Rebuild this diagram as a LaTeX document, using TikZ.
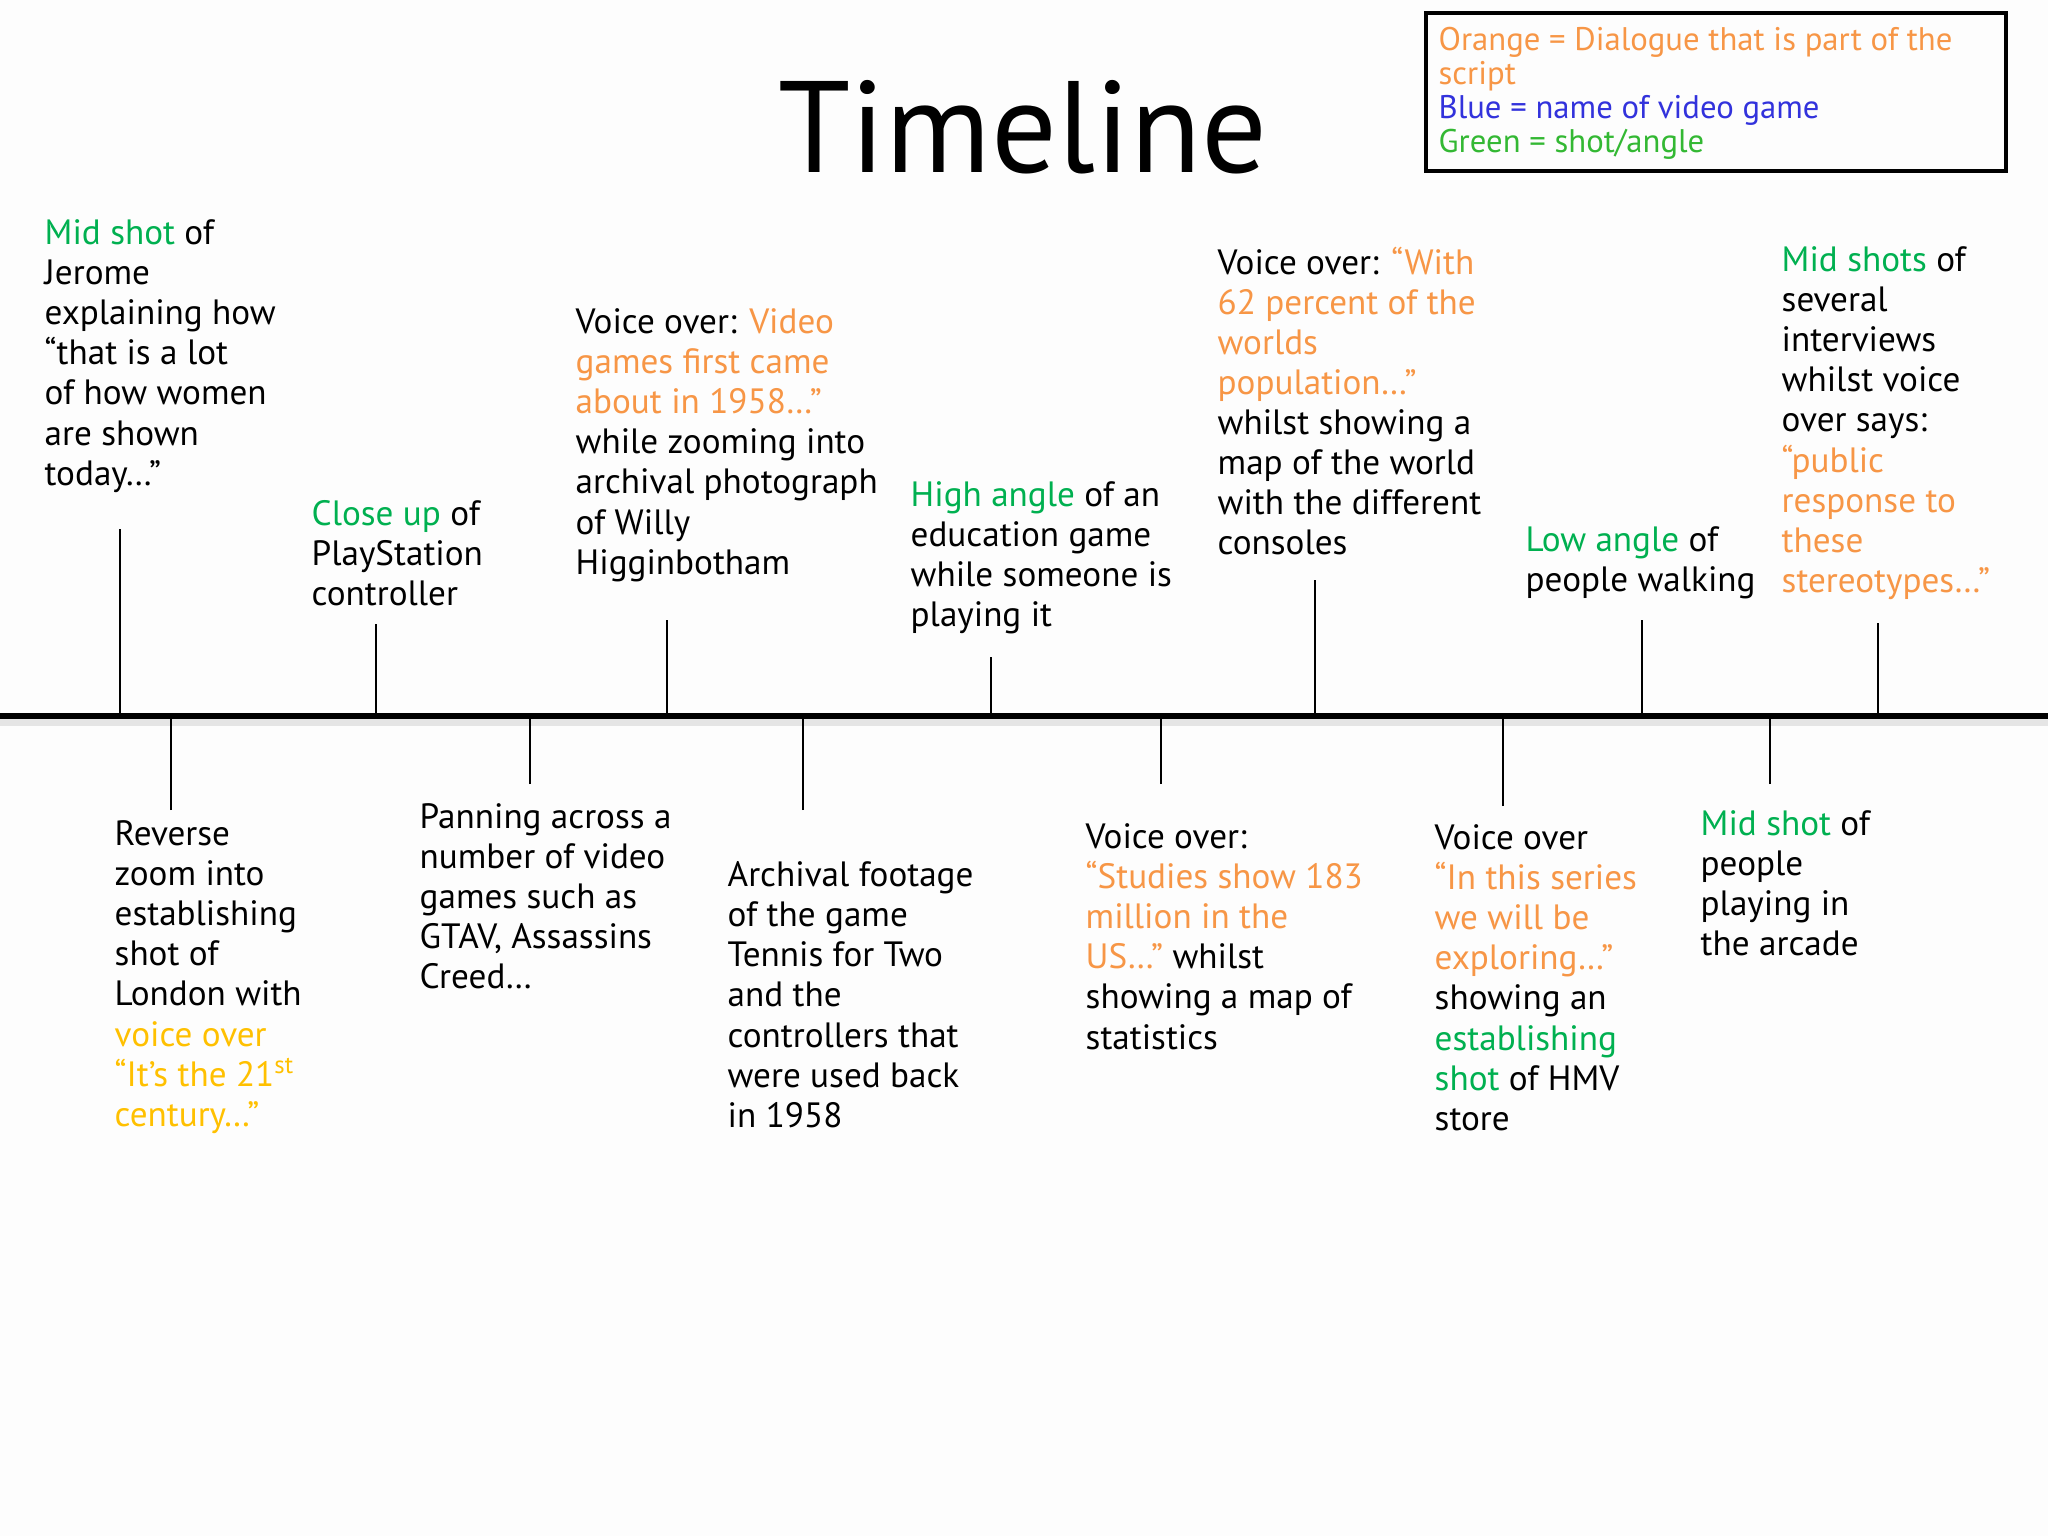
\documentclass[tikz,border=0pt]{standalone}
\usepackage{fontspec}
\setmainfont{PT Sans}
\usepackage{xcolor}
\usetikzlibrary{positioning,calc}

\definecolor{dialogue}{HTML}{F79646}
\definecolor{shotgreen}{HTML}{00B050}
\definecolor{voicegold}{HTML}{FFC000}
\definecolor{gamename}{HTML}{3232DC}
\definecolor{keygreen}{HTML}{33B833}
\definecolor{pagebg}{HTML}{FDFDFD}

\newcommand{\dlg}[1]{\textcolor{dialogue}{#1}}
\newcommand{\shotc}[1]{\textcolor{shotgreen}{#1}}
\newcommand{\vog}[1]{\textcolor{voicegold}{#1}}

\tikzset{
  event/.style={anchor=north west, inner sep=0pt, align=left,
    font=\fontsize{10}{11.4}\selectfont},
  tick/.style={line width=0.6pt},
}

\begin{document}
\begin{tikzpicture}[x=0.01cm, y=-0.01cm]
  % Page
  \useasboundingbox (0,0) rectangle (2048,1536);
  \fill[pagebg] (0,0) rectangle (2048,1536);
  % Title and key
  \node[anchor=base, inner sep=0pt, font=\fontsize{37}{40}\selectfont] (title) at (1023,172) {Timeline};
  \draw[line width=0.9pt] (1426,13) rectangle (2006,171);
  \node[anchor=north west, inner sep=0pt, align=left, font=\fontsize{9.3}{9.6}\selectfont] (key) at (1438,27)
    {\dlg{Orange = Dialogue that is part of the}\\ \dlg{script}\\
     \textcolor{gamename}{Blue = name of video game}\\ \textcolor{keygreen}{Green = shot/angle}};
  % Define coordinates
  \path
    (0,716) coordinate (axisL)
    (2048,716) coordinate (axisR)
    (120,529) coordinate (jerome-tick)
    (376,624) coordinate (controller-tick)
    (667,620) coordinate (willy-tick)
    (991,657) coordinate (edugame-tick)
    (1315,580) coordinate (worldmap-tick)
    (1642,620) coordinate (walking-tick)
    (1878,623) coordinate (interviews-tick)
    (171,810) coordinate (london-tick)
    (530,784) coordinate (panning-tick)
    (803,810) coordinate (tennis-tick)
    (1161,784) coordinate (stats-tick)
    (1503,806) coordinate (hmv-tick)
    (1770,784) coordinate (arcade-tick)
  ;
  % Draw axis
  \draw[line width=3pt, black!10] ($(axisL)+(0,5)$) -- ($(axisR)+(0,5)$);
  \draw[line width=1.5pt] (axisL) -- (axisR);
  \foreach \ev in {jerome,controller,willy,edugame,worldmap,walking,interviews,
                   london,panning,tennis,stats,hmv,arcade}
    \draw[tick] (\ev-tick) -- (\ev-tick |- axisL);
  % Events above the line
  \node[event] (jerome) at (44,219)
    {\shotc{Mid shot} of\\Jerome\\explaining how\\“that is a lot\\of how women\\are shown\\today…”};
  \node[event] (controller) at (311,500)
    {\shotc{Close up} of\\PlayStation\\controller};
  \node[event] (willy) at (575,308)
    {Voice over: \dlg{Video}\\ \dlg{games first came}\\ \dlg{about in 1958…”}\\while zooming into\\archival photograph\\of Willy\\Higginbotham};
  \node[event] (edugame) at (910,481)
    {\shotc{High angle} of an\\education game\\while someone is\\playing it};
  \node[event] (worldmap) at (1217,246)
    {Voice over: \dlg{“With}\\ \dlg{62 percent of the}\\ \dlg{worlds}\\ \dlg{population…”}\\whilst showing a\\map of the world\\with the different\\consoles};
  \node[event] (walking) at (1525,526)
    {\shotc{Low angle} of\\people walking};
  \node[event] (interviews) at (1781,246)
    {\shotc{Mid shots} of\\several\\interviews\\whilst voice\\over says:\\ \dlg{“public}\\ \dlg{response to}\\ \dlg{these}\\ \dlg{stereotypes…”}};
  % Events below the line
  \node[event] (london) at (114,820)
    {Reverse\\zoom into\\establishing\\shot of\\London with\\ \vog{voice over}\\ \vog{“It’s the 21\textsuperscript{st}}\\ \vog{century…”}};
  \node[event] (panning) at (419,803)
    {Panning across a\\number of video\\games such as\\GTAV, Assassins\\Creed…};
  \node[event] (tennis) at (727,861)
    {Archival footage\\of the game\\Tennis for Two\\and the\\controllers that\\were used back\\in 1958};
  \node[event] (stats) at (1085,823)
    {Voice over:\\ \dlg{“Studies show 183}\\ \dlg{million in the}\\ \dlg{US…”} whilst\\showing a map of\\statistics};
  \node[event] (hmv) at (1434,824)
    {Voice over\\ \dlg{“In this series}\\ \dlg{we will be}\\ \dlg{exploring…”}\\showing an\\ \shotc{establishing}\\ \shotc{shot} of HMV\\store};
  \node[event] (arcade) at (1700,810)
    {\shotc{Mid shot} of\\people\\playing in\\the arcade};
\end{tikzpicture}
\end{document}
